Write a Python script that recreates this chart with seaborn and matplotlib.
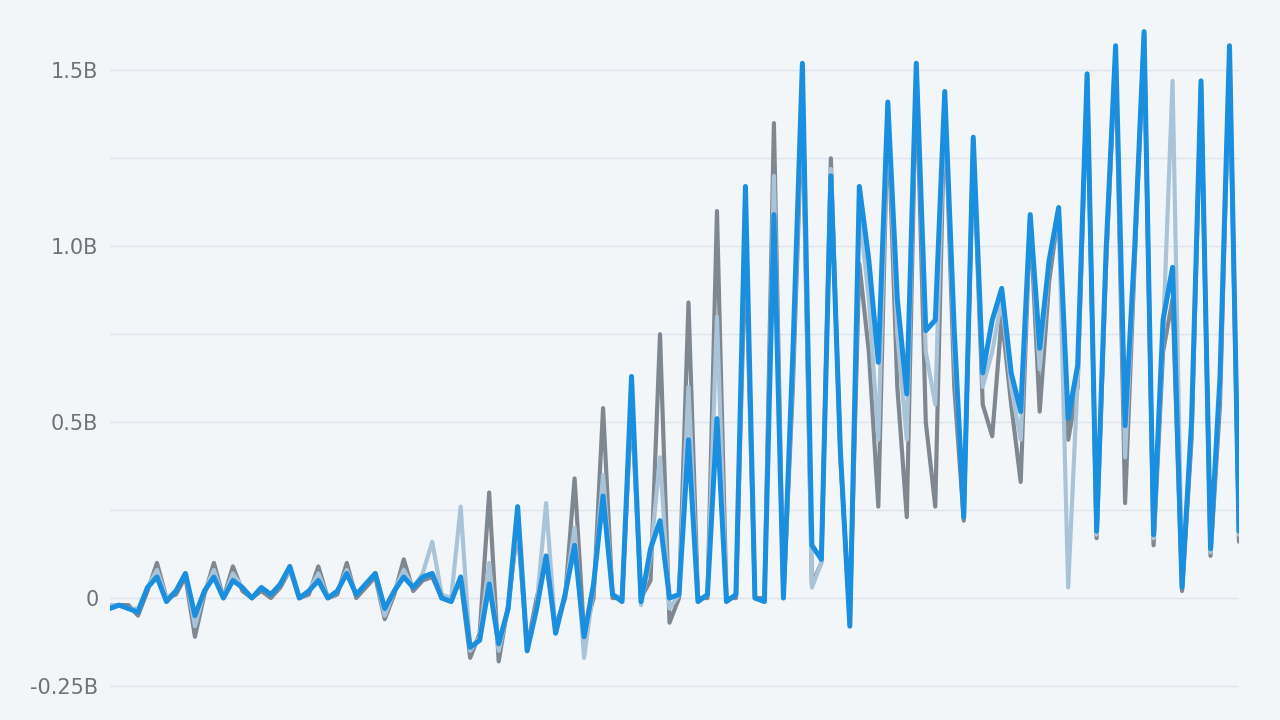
import matplotlib
matplotlib.use("Agg")
import matplotlib.pyplot as plt
import seaborn as sns
import numpy as np
import pandas as pd

# ---- data (values in billions) ----
period = list(range(120))

series_main = [
    -0.03, -0.02, -0.03, -0.04, 0.03, 0.06, -0.01, 0.02, 0.07, -0.05,
    0.02, 0.06, 0.00, 0.05, 0.03, 0.00, 0.03, 0.01, 0.04, 0.09,
    0.00, 0.02, 0.05, 0.00, 0.02, 0.07, 0.01, 0.04, 0.07, -0.03,
    0.02, 0.06, 0.03, 0.06, 0.07, 0.00, -0.01, 0.06, -0.14, -0.12,
    0.04, -0.13, -0.03, 0.26, -0.15, -0.03, 0.12, -0.10, 0.01, 0.15,
    -0.11, 0.04, 0.29, 0.01, -0.01, 0.63, -0.01, 0.14, 0.22, 0.00,
    0.01, 0.45, -0.01, 0.01, 0.51, -0.01, 0.01, 1.17, 0.00, -0.01,
    1.09, 0.00, 0.70, 1.52, 0.15, 0.11, 1.20, 0.42, -0.08, 1.17,
    0.96, 0.67, 1.41, 0.85, 0.58, 1.52, 0.76, 0.79, 1.44, 0.76,
    0.23, 1.31, 0.64, 0.79, 0.88, 0.64, 0.53, 1.09, 0.71, 0.96,
    1.11, 0.51, 0.66, 1.49, 0.19, 0.99, 1.57, 0.49, 0.99, 1.61,
    0.18, 0.79, 0.94, 0.03, 0.50, 1.47, 0.14, 0.63, 1.57, 0.19,
]

series_gray = [
    -0.03, -0.02, -0.02, -0.05, 0.02, 0.10, 0.00, 0.01, 0.06, -0.11,
    0.01, 0.10, 0.00, 0.09, 0.02, 0.00, 0.02, 0.00, 0.03, 0.08,
    0.00, 0.01, 0.09, 0.00, 0.01, 0.10, 0.00, 0.03, 0.06, -0.06,
    0.01, 0.11, 0.02, 0.05, 0.06, 0.00, 0.00, 0.05, -0.17, -0.10,
    0.30, -0.18, -0.02, 0.20, -0.14, 0.00, 0.10, -0.08, 0.00, 0.34,
    -0.10, 0.00, 0.54, 0.00, 0.00, 0.55, 0.00, 0.05, 0.75, -0.07,
    0.00, 0.84, 0.00, 0.00, 1.10, 0.00, 0.00, 1.00, 0.00, 0.00,
    1.35, 0.00, 0.60, 1.40, 0.04, 0.10, 1.25, 0.40, -0.06, 0.95,
    0.70, 0.26, 1.38, 0.60, 0.23, 1.50, 0.50, 0.26, 1.42, 0.60,
    0.22, 1.28, 0.55, 0.46, 0.80, 0.55, 0.33, 1.08, 0.53, 0.90,
    1.10, 0.45, 0.60, 1.48, 0.17, 0.95, 1.55, 0.27, 0.95, 1.60,
    0.15, 0.70, 0.85, 0.02, 0.45, 1.45, 0.12, 0.55, 1.55, 0.16,
]

series_light = [
    -0.02, -0.02, -0.03, -0.03, 0.03, 0.08, 0.00, 0.02, 0.07, -0.08,
    0.02, 0.08, 0.00, 0.07, 0.03, 0.00, 0.03, 0.01, 0.04, 0.08,
    0.00, 0.02, 0.07, 0.00, 0.02, 0.08, 0.01, 0.04, 0.07, -0.05,
    0.02, 0.08, 0.03, 0.07, 0.16, 0.01, 0.00, 0.26, -0.15, -0.11,
    0.10, -0.15, -0.03, 0.22, -0.15, -0.02, 0.27, -0.10, 0.01, 0.20,
    -0.17, 0.03, 0.35, 0.01, 0.00, 0.58, -0.02, 0.12, 0.40, -0.03,
    0.01, 0.60, -0.01, 0.01, 0.80, -0.01, 0.01, 1.10, 0.00, -0.01,
    1.20, 0.00, 0.65, 1.45, 0.03, 0.10, 1.22, 0.41, -0.07, 1.10,
    0.85, 0.45, 1.40, 0.75, 0.45, 1.51, 0.70, 0.55, 1.43, 0.70,
    0.25, 1.30, 0.60, 0.70, 0.85, 0.60, 0.45, 1.09, 0.65, 0.95,
    1.10, 0.03, 0.62, 1.48, 0.18, 0.97, 1.56, 0.40, 0.97, 1.60,
    0.17, 0.75, 1.47, 0.05, 0.48, 1.46, 0.13, 0.60, 1.56, 0.18,
]

grid_values = [-0.25, 0.0, 0.25, 0.5, 0.75, 1.0, 1.25, 1.5]
tick_labels = ["-0.25B", "0", "", "0.5B", "", "1.0B", "", "1.5B"]

# ---- style ----
BG = "#f3f6f9"
sns.set_theme(style="whitegrid")
plt.rcParams["font.family"] = ["DejaVu Sans"]

fig = plt.figure(figsize=(12.8, 7.2), dpi=100, facecolor=BG)
ax = fig.add_axes([109.5 / 1280, (720 - 703.6) / 720, (1239 - 109.5) / 1280, (703.6 - 7) / 720])
ax.set_facecolor(BG)

df = pd.DataFrame({
    "period": period,
    "main": series_main,
    "gray": series_gray,
    "light": series_light,
})

sns.lineplot(data=df, x="period", y="gray", ax=ax, color="#7f8790", linewidth=3.0,
             solid_joinstyle="round", solid_capstyle="round")
sns.lineplot(data=df, x="period", y="light", ax=ax, color="#a9c4d8", linewidth=3.0,
             solid_joinstyle="round", solid_capstyle="round")
sns.lineplot(data=df, x="period", y="main", ax=ax, color="#1a8fdf", linewidth=3.6,
             solid_joinstyle="round", solid_capstyle="round")

ax.set_xlim(0, 119)
ax.set_ylim(-0.30, 1.68)
ax.set_yticks(grid_values)
ax.set_yticklabels(tick_labels)
ax.set_xticks([])
ax.grid(axis="y", color="#dde3ea", linewidth=1.0)
ax.grid(axis="x", visible=False)
ax.tick_params(axis="y", length=0, pad=8, labelsize=15, labelcolor="#6f7378")
ax.set_xlabel("")
ax.set_ylabel("")
for s in ax.spines.values():
    s.set_visible(False)

fig.savefig("out.png", dpi=100, facecolor=BG)
